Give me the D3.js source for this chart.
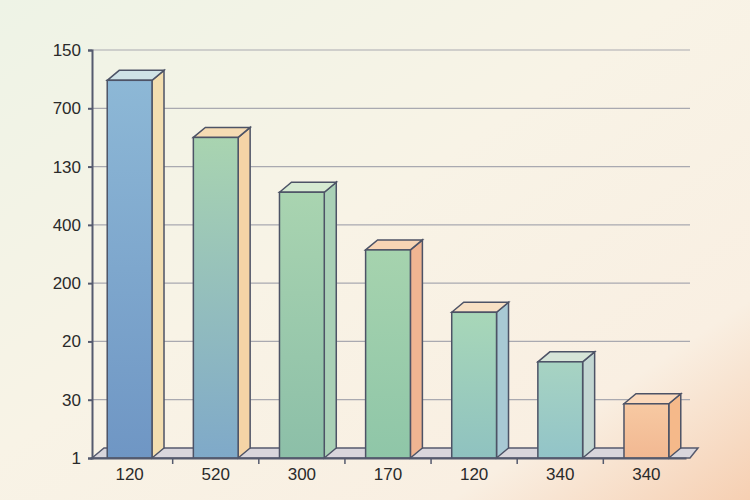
<!DOCTYPE html>
<html><head><meta charset="utf-8">
<script src="https://cdn.jsdelivr.net/npm/d3@7"></script>
<style>body{margin:0}svg{display:block;font-family:"Open Sans",sans-serif}</style>
</head><body><div id="main-svg"></div>
<script>
var width = 750, height = 500;
// tick labels as printed, bottom to top
var yLabels = ["1","30","20","200","400","130","700","150"];
var categories = ["120","520","300","170","120","340","340"];
var values = [6.48, 5.5, 4.56, 3.57, 2.5, 1.65, 0.93]; // in tick steps
var frontTop = ["#8db8d6","#a9d4b0","#a9d4b0","#a6d3ae","#a8d7b8","#a7d3c2","#f7c9a2"];
var frontBot = ["#6f96c4","#7fa9c9","#8cbfa8","#8fc6a8","#8fc2c0","#92c4c8","#f2b892"];
var sideCol  = ["#f3deb0","#f5d4a6","#a9d0b6","#f0b592","#a8c9d4","#c2d6d2","#f5b98a"];
var topCol   = ["#cfe2e6","#f6dcb4","#d6ead2","#f7d4b4","#f7e0c4","#d6e4d8","#fbd9bb"];

var margin = {top: 50, right: 60, bottom: 42, left: 92};
var svg = d3.select("#main-svg").append("svg").attr("width", width).attr("height", height);
var defs = svg.append("defs");
var bg = defs.append("linearGradient").attr("id","bg").attr("x1","0").attr("y1","0").attr("x2","1").attr("y2","1");
bg.append("stop").attr("offset","0").attr("stop-color","#eef3e6");
bg.append("stop").attr("offset","0.45").attr("stop-color","#f8f3e6");
bg.append("stop").attr("offset","0.8").attr("stop-color","#f9efe2");
bg.append("stop").attr("offset","1").attr("stop-color","#f6cfb2");
svg.append("rect").attr("width",width).attr("height",height).attr("fill","url(#bg)");

var y = d3.scaleLinear().domain([0, 7]).range([height - margin.bottom, margin.top]);
var x = d3.scaleBand().domain(d3.range(categories.length)).range([margin.left - 2, width - 64])
  .paddingInner(0.48).paddingOuter(0.2);

// grid
svg.selectAll("line.grid").data(d3.range(1, 8)).enter().append("line")
  .attr("x1", margin.left).attr("x2", width - margin.right)
  .attr("y1", d => y(d)).attr("y2", d => y(d))
  .attr("stroke", "#a9a9b0").attr("stroke-width", 1.2);

var yAxis = d3.axisLeft(y).tickValues(d3.range(0, 8)).tickFormat(d => yLabels[d]).tickSize(4);
var gy = svg.append("g").attr("transform", `translate(${margin.left},0)`).call(yAxis);
gy.select(".domain").attr("stroke","#555a6e").attr("stroke-width",2);
gy.selectAll(".tick line").attr("stroke","#555a6e").attr("stroke-width",2);
gy.selectAll("text").attr("font-size",17).attr("fill","#2a2a2a").attr("dx","-4");

var dx = 12, dy = 10, bw = x.bandwidth();
values.forEach((v, i) => {
  var g = defs.append("linearGradient").attr("id","f"+i).attr("x1","0").attr("y1","0").attr("x2","0").attr("y2","1");
  g.append("stop").attr("offset","0").attr("stop-color",frontTop[i]);
  g.append("stop").attr("offset","1").attr("stop-color",frontBot[i]);
});

// floor strip
svg.append("path")
  .attr("d", `M${margin.left},${y(0)} L${margin.left+dx},${y(0)-dy} L${width-margin.right+8},${y(0)-dy} L${width-margin.right},${y(0)} Z`)
  .attr("fill","#d9d6dc").attr("stroke","#555a6e").attr("stroke-width",1.5);

var bars = svg.selectAll("g.bar").data(values).enter().append("g").attr("class","bar");
bars.append("path").attr("d", (d, i) => {
  var x0 = x(i) + bw, yt = y(d), yb = y(0);
  return `M${x0},${yt} L${x0+dx},${yt-dy} L${x0+dx},${yb-dy} L${x0},${yb} Z`;
}).attr("fill", (d, i) => sideCol[i]).attr("stroke","#4d5366").attr("stroke-width",1.5);
bars.append("path").attr("d", (d, i) => {
  var x0 = x(i), yt = y(d);
  return `M${x0},${yt} L${x0+dx},${yt-dy} L${x0+bw+dx},${yt-dy} L${x0+bw},${yt} Z`;
}).attr("fill", (d, i) => topCol[i]).attr("stroke","#4d5366").attr("stroke-width",1.5);
bars.append("rect")
  .attr("x", (d, i) => x(i)).attr("y", d => y(d))
  .attr("width", bw).attr("height", d => y(0) - y(d))
  .attr("fill", (d, i) => `url(#f${i})`).attr("stroke","#4d5366").attr("stroke-width",1.5);

// x axis
var gx = svg.append("g").attr("transform", `translate(0,${y(0)})`)
  .call(d3.axisBottom(x).tickFormat(i => categories[i]).tickSize(0));
gx.select(".domain").attr("stroke","#555a6e").attr("stroke-width",2);
gx.selectAll("text").attr("font-size",17).attr("fill","#2a2a2a").attr("dy","1.1em");
svg.selectAll("line.sep").data(d3.range(1, categories.length)).enter().append("line")
  .attr("x1", i => x(i) - x.step()*x.paddingInner()/2).attr("x2", i => x(i) - x.step()*x.paddingInner()/2)
  .attr("y1", y(0)).attr("y2", y(0) + 6).attr("stroke","#555a6e").attr("stroke-width",1.5);
</script></body></html>
